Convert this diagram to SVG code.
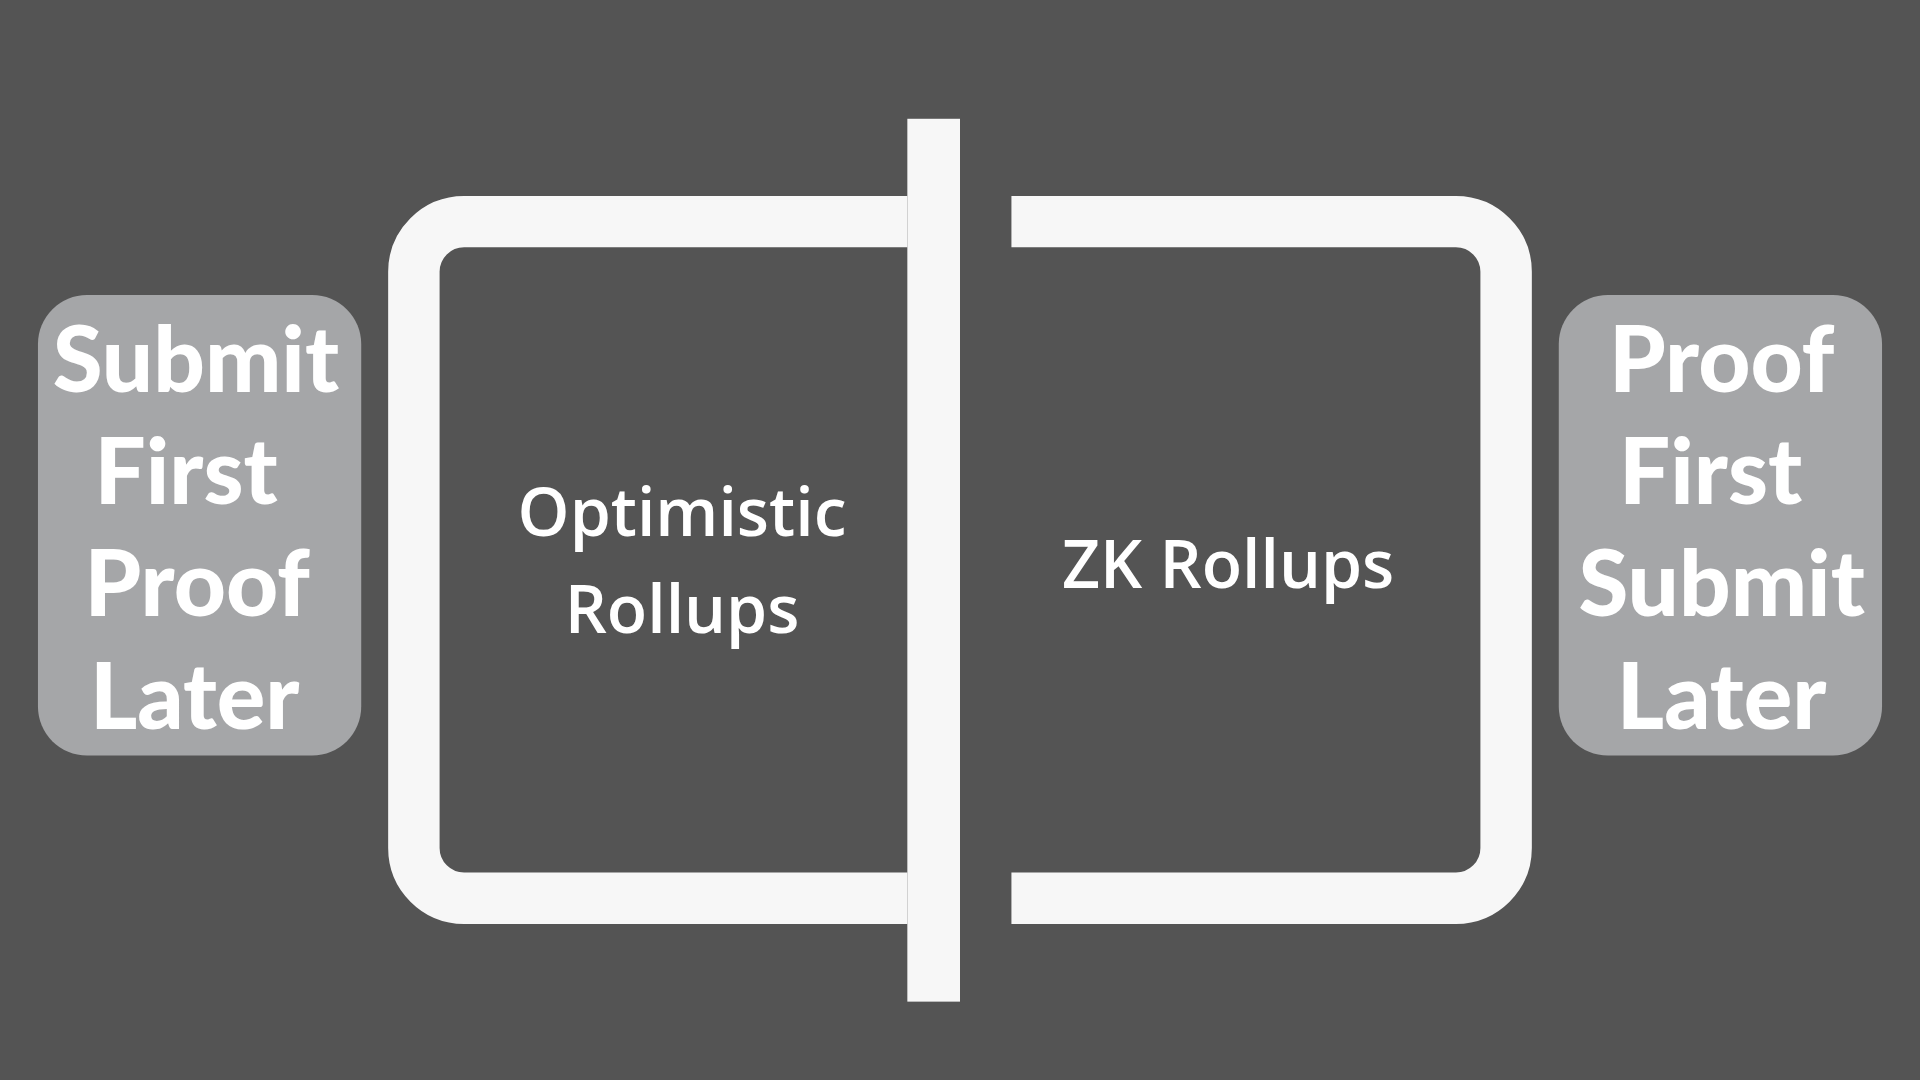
<svg xmlns="http://www.w3.org/2000/svg" width="1920" height="1080" viewBox="0 0 1920 1080">
<style>
.br{fill:none;stroke:#f7f7f7;stroke-width:42;stroke-linecap:butt}
.pill{fill:#a5a6a8}
.big{font-family:Lato,"Noto Sans",sans-serif;font-weight:900;font-size:74px;fill:#ffffff;text-anchor:middle}
.mid{font-family:"Open Sans","Noto Sans",sans-serif;font-weight:600;font-size:54px;fill:#ffffff;text-anchor:middle}
</style>
<rect width="1920" height="1080" fill="#545454"/>
<g transform="scale(1.22449)">
<g id="connectors">
<path class="br" d="M741,181 H379 A41,41 0 0 0 338,222 V692.5 A41,41 0 0 0 379,733.5 H741"/>
<path class="br" d="M826,181 H1189 A41,41 0 0 1 1230,222 V692.5 A41,41 0 0 1 1189,733.5 H826"/>
<rect x="741" y="97" width="43" height="721" fill="#f7f7f7"/>
</g>
<g id="left-note">
<rect class="pill" x="31" y="241" width="264" height="376" rx="40"/>
<text class="big" x="160" y="320">Submit</text>
<text class="big" x="152" y="412">First</text>
<text class="big" x="161" y="503">Proof</text>
<text class="big" x="159" y="595">Later</text>
</g>
<g id="right-note">
<rect class="pill" x="1273" y="241" width="264" height="376" rx="40"/>
<text class="big" x="1406" y="320">Proof</text>
<text class="big" x="1397" y="412">First</text>
<text class="big" x="1406" y="503">Submit</text>
<text class="big" x="1406" y="595">Later</text>
</g>
<g id="optimistic">
<text class="mid" x="557" y="438">Optimistic</text>
<text class="mid" x="557" y="517">Rollups</text>
</g>
<g id="zk">
<text class="mid" x="1003" y="480">ZK Rollups</text>
</g>
</g>
</svg>
